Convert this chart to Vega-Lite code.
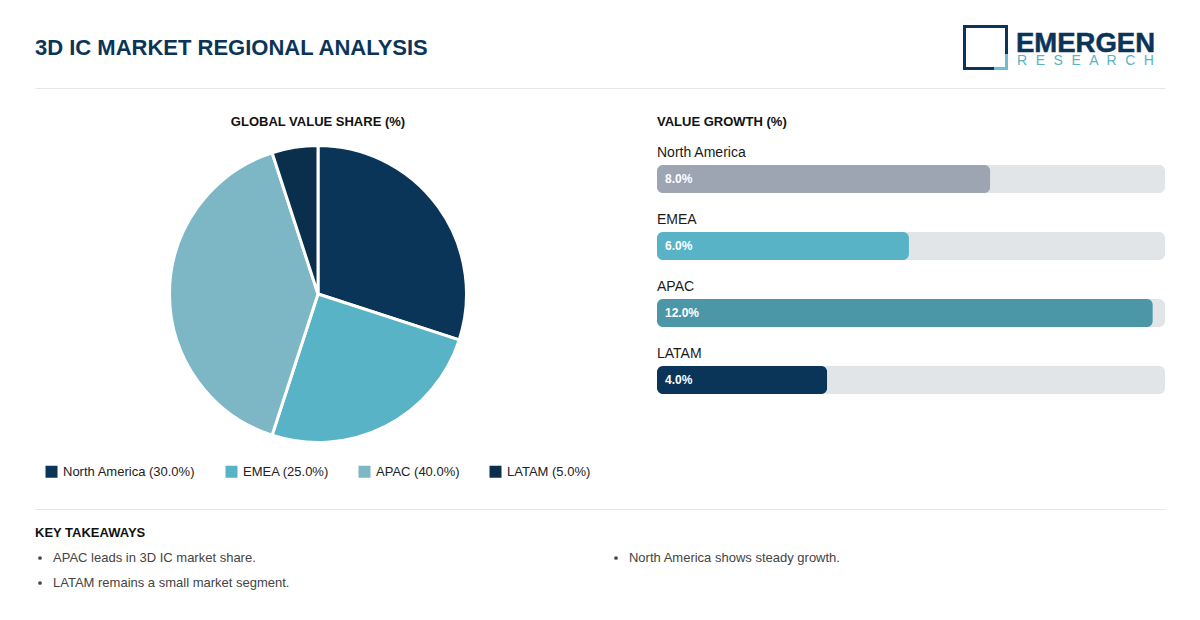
{
  "$schema": "https://vega.github.io/schema/vega-lite/v6.json",
  "background": "white",
  "padding": {"left": 34, "right": 35, "top": 0, "bottom": 0},
  "config": {
    "view": {"stroke": null},
    "font": "Liberation Sans",
    "title": {"font": "Liberation Sans", "fontSize": 13, "fontWeight": "bold", "color": "#111111"}
  },
  "spacing": 28,
  "resolve": {"scale": {"color": "independent"}},
  "vconcat": [
    {
      "width": 1130,
      "height": 88,
      "encoding": {
        "x": {
          "datum": 0,
          "type": "quantitative",
          "scale": {"domain": [0, 1130], "nice": false, "zero": false},
          "axis": {"orient": "bottom", "domain": true, "domainColor": "#E4E6E9", "domainWidth": 1, "ticks": false, "labels": false, "grid": false, "title": null}
        },
        "y": {
          "datum": 0,
          "type": "quantitative",
          "scale": {"domain": [88, 0], "nice": false, "zero": false},
          "axis": null
        }
      },
      "layer": [
        {
          "data": {"values": [{"text": "3D IC MARKET REGIONAL ANALYSIS"}]},
          "mark": {"type": "text", "align": "left", "baseline": "middle", "fontSize": 22, "fontWeight": "bold", "color": "#0B3558"},
          "encoding": {
            "x": {"datum": 0, "type": "quantitative"},
            "y": {"datum": 47.5, "type": "quantitative"},
            "text": {"field": "text"}
          }
        },
        {
          "data": {"values": [{"name": "frame"}]},
          "mark": {"type": "rect", "fill": "transparent", "stroke": "#0B3558", "strokeWidth": 3},
          "encoding": {
            "x": {"datum": 929.5, "type": "quantitative"},
            "x2": {"datum": 971.5},
            "y": {"datum": 26.5, "type": "quantitative"},
            "y2": {"datum": 68.5}
          }
        },
        {
          "data": {"values": [{"name": "corner right"}]},
          "mark": {"type": "rule", "stroke": "#6FBFD2", "strokeWidth": 3},
          "encoding": {
            "x": {"datum": 971.5, "type": "quantitative"},
            "y": {"datum": 54, "type": "quantitative"},
            "y2": {"datum": 70}
          }
        },
        {
          "data": {"values": [{"name": "corner bottom"}]},
          "mark": {"type": "rule", "stroke": "#6FBFD2", "strokeWidth": 3},
          "encoding": {
            "x": {"datum": 959, "type": "quantitative"},
            "x2": {"datum": 973},
            "y": {"datum": 68.5, "type": "quantitative"}
          }
        },
        {
          "data": {"values": [{"text": "EMERGEN"}]},
          "mark": {"type": "text", "align": "left", "baseline": "alphabetic", "fontSize": 27.5, "fontWeight": "bold", "color": "#0B3558", "stroke": "#0B3558", "strokeWidth": 0.5},
          "encoding": {
            "x": {"datum": 981, "type": "quantitative"},
            "y": {"datum": 51.5, "type": "quantitative"},
            "text": {"field": "text"}
          }
        },
        {
          "data": {"values": [{"text": "R \u2004E \u2004S \u2004E \u2004A \u2004R \u2004C \u2004H"}]},
          "mark": {"type": "text", "align": "left", "baseline": "alphabetic", "fontSize": 14, "color": "#58B3C6"},
          "encoding": {
            "x": {"datum": 982, "type": "quantitative"},
            "y": {"datum": 65, "type": "quantitative"},
            "text": {"field": "text"}
          }
        }
      ]
    },
    {
      "bounds": "flush",
      "spacing": 56,
      "resolve": {"scale": {"color": "independent"}},
      "hconcat": [
        {
          "width": 566,
          "height": 328,
          "title": {"text": "GLOBAL VALUE SHARE (%)", "anchor": "middle", "offset": 1},
          "data": {
            "values": [
              {"region": "North America", "share": 30, "label": "North America (30.0%)", "rank": 1},
              {"region": "EMEA", "share": 25, "label": "EMEA (25.0%)", "rank": 2},
              {"region": "APAC", "share": 40, "label": "APAC (40.0%)", "rank": 3},
              {"region": "LATAM", "share": 5, "label": "LATAM (5.0%)", "rank": 4}
            ]
          },
          "mark": {"type": "arc", "outerRadius": 148.5, "stroke": "white", "strokeWidth": 3},
          "encoding": {
            "theta": {"field": "share", "type": "quantitative", "stack": true},
            "order": {"field": "rank", "type": "quantitative"},
            "color": {
              "field": "label",
              "type": "nominal",
              "sort": null,
              "scale": {
                "domain": ["North America (30.0%)", "EMEA (25.0%)", "APAC (40.0%)", "LATAM (5.0%)"],
                "range": ["#0A3558", "#58B3C6", "#7DB6C5", "#0A2F4C"]
              },
              "legend": {
                "title": null,
                "orient": "none",
                "legendX": 10,
                "legendY": 335,
                "direction": "horizontal",
                "columns": 4,
                "columnPadding": 29,
                "padding": 0,
                "symbolType": "square",
                "symbolSize": 144,
                "symbolStrokeWidth": 0,
                "labelOffset": 5,
                "labelFontSize": 13,
                "labelColor": "#222222",
                "labelFont": "Liberation Sans",
                "labelLimit": 300
              }
            }
          }
        },
        {
          "width": 508,
          "height": 351,
          "title": {"text": "VALUE GROWTH (%)", "anchor": "start", "offset": 1},
          "data": {
            "values": [
              {"region": "North America", "growth": 0.08, "bar_pct": 65.6},
              {"region": "EMEA", "growth": 0.06, "bar_pct": 49.6},
              {"region": "APAC", "growth": 0.12, "bar_pct": 97.6},
              {"region": "LATAM", "growth": 0.04, "bar_pct": 33.5}
            ]
          },
          "encoding": {
            "y": {
              "field": "region",
              "type": "nominal",
              "sort": null,
              "scale": {"domain": ["North America", "EMEA", "APAC", "LATAM"], "range": [35, 264], "paddingInner": 0.582, "paddingOuter": 0},
              "axis": null
            }
          },
          "layer": [
            {
              "mark": {"type": "bar", "cornerRadius": 6, "fill": "#E1E5E8"},
              "encoding": {
                "x": {"datum": 0, "type": "quantitative", "scale": {"domain": [0, 100], "nice": false}, "axis": null},
                "x2": {"datum": 100}
              }
            },
            {
              "mark": {"type": "bar", "cornerRadius": 6},
              "encoding": {
                "x": {"field": "bar_pct", "type": "quantitative"},
                "color": {
                  "field": "region",
                  "type": "nominal",
                  "scale": {
                    "domain": ["North America", "EMEA", "APAC", "LATAM"],
                    "range": ["#9CA5B1", "#58B3C6", "#4B97A8", "#0A3558"]
                  },
                  "legend": null
                }
              }
            },
            {
              "mark": {"type": "text", "align": "left", "baseline": "middle", "dx": 8, "fontSize": 12, "fontWeight": "bold", "color": "white"},
              "encoding": {
                "x": {"datum": 0, "type": "quantitative"},
                "text": {"field": "growth", "type": "quantitative", "format": ".1%"}
              }
            },
            {
              "mark": {"type": "text", "align": "left", "baseline": "alphabetic", "dy": -22, "fontSize": 14, "color": "#1A1A1A"},
              "encoding": {
                "x": {"datum": 0, "type": "quantitative"},
                "text": {"field": "region", "type": "nominal"}
              }
            }
          ]
        }
      ]
    },
    {
      "width": 1130,
      "height": 110,
      "encoding": {
        "x": {
          "field": "col",
          "type": "quantitative",
          "scale": {"domain": [0.96875, 2.9306], "nice": false, "zero": false},
          "axis": {"orient": "top", "domain": true, "domainColor": "#E4E6E9", "domainWidth": 1, "ticks": false, "labels": false, "grid": false, "title": null}
        },
        "y": {
          "field": "line",
          "type": "quantitative",
          "scale": {"domain": [3.44, -0.96], "nice": false, "zero": false},
          "axis": null
        }
      },
      "layer": [
        {
          "data": {"values": [{"text": "KEY TAKEAWAYS", "col": 1, "line": 0}]},
          "mark": {"type": "text", "align": "left", "baseline": "middle", "dx": -18, "fontSize": 13, "fontWeight": "bold", "color": "#111111"},
          "encoding": {"text": {"field": "text"}}
        },
        {
          "data": {
            "name": "takeaways",
            "values": [
              {"text": "APAC leads in 3D IC market share.", "col": 1, "line": 1},
              {"text": "LATAM remains a small market segment.", "col": 1, "line": 2},
              {"text": "North America shows steady growth.", "col": 2, "line": 1}
            ]
          },
          "mark": {"type": "point", "filled": true, "shape": "circle", "size": 14, "xOffset": -13, "color": "#444444", "opacity": 1}
        },
        {
          "data": {"name": "takeaways"},
          "mark": {"type": "text", "align": "left", "baseline": "middle", "fontSize": 13, "color": "#444444"},
          "encoding": {"text": {"field": "text"}}
        }
      ]
    }
  ]
}
